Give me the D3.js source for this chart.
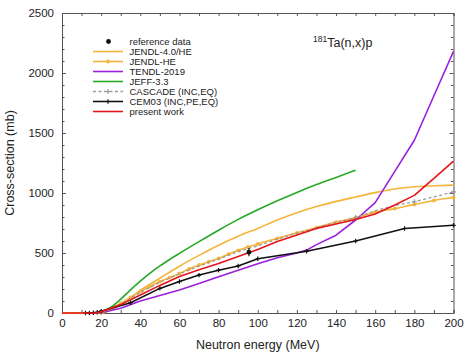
<!DOCTYPE html>
<html><head><meta charset="utf-8">
<script src="https://cdn.jsdelivr.net/npm/d3@7"></script>
<style>
body{margin:0;background:#fff;}
svg{display:block;font-family:"Liberation Sans",Arial,sans-serif;}
</style></head>
<body><svg id="chart" width="474" height="355"></svg>
<script>
// ---- data ----
const xTicks = [0,20,40,60,80,100,120,140,160,180,200];
const yTicks = [0,500,1000,1500,2000,2500];

const jendl40HE = [[0,0],[10,0],[20,0],[25,25],[30,70],[35,128],[40,188],[50,290],[60,390],[70,480],[80,565],[90,640],[100,705],[110,775],[120,835],[130,887],[140,930],[150,967],[160,1003],[170,1034],[180,1052],[190,1060],[200,1066]];
const jendlHE = [[0,0],[10,0],[20,0],[25,35],[30,80],[35,130],[40,180],[45,222],[50,262],[55,295],[60,330],[65,368],[70,400],[75,427],[80,455],[85,490],[90,522],[95,550],[100,575],[110,622],[120,668],[130,712],[140,758],[150,795],[160,840],[170,870],[180,905],[190,938],[200,962]];
const jendlHEMarkers = [20,25,30,35,40,45,50,55,60,65,70,75,80,85,90,95,100,110,120,130,140,150,160,170,180,190,200];
const tendl2019 = [[18,0],[20,2],[30,40],[40,100],[50,145],[60,191],[70,245],[80,302],[90,357],[100,410],[110,460],[120,500],[125,524],[130,570],[140,648],[150,775],[160,920],[170,1180],[180,1440],[190,1810],[200,2180]];
const jeff33 = [[18,0],[20,10],[25,48],[30,115],[35,192],[40,265],[45,332],[50,392],[55,446],[60,497],[70,595],[80,690],[90,780],[100,860],[110,935],[120,1005],[130,1070],[140,1130],[150,1190]];
const cascade = [[18,0],[20,5],[30,75],[40,170],[50,255],[60,325],[70,390],[80,450],[90,510],[100,560],[110,615],[120,665],[130,710],[140,755],[150,795],[160,852],[170,895],[180,928],[190,968],[200,1010]];
const cascadeMarkers = [150,180,200];
const cem03 = [[12,0],[14,0],[16,2],[18,6],[20,15],[35,86],[50,205],[60,262],[70,316],[80,357],[90,392],[100,452],[125,515],[150,600],[175,704],[200,731]];
const presentWork = [[0,0],[10,0],[17,0],[20,10],[30,70],[40,150],[50,230],[60,305],[70,360],[80,413],[90,470],[100,530],[110,595],[120,650],[130,705],[140,742],[150,780],[160,825],[170,900],[180,980],[190,1122],[200,1265]];
const referenceData = [[95.5,507,35]];

const legendLabels = ["reference data","JENDL-4.0/HE","JENDL-HE","TENDL-2019","JEFF-3.3","CASCADE (INC,EQ)","CEM03 (INC,PE,EQ)","present work"];

// ---- layout ----
const svg = d3.select("#chart");
const L = 62, R = 453.5, T = 13, B = 313;
const x = d3.scaleLinear().domain([0,200]).range([L,R]);
const y = d3.scaleLinear().domain([0,2500]).range([B,T]);
const frameColor = "#555";

const orange = "#f4b43a", purple = "#9b1fdc", green = "#27a927", grey = "#9a9a9a", red = "#e4141b";

// axes (ticks inside)
const fmt = d3.format("d");
svg.append("g").attr("transform",`translate(0,${B})`)
  .call(d3.axisBottom(x).tickValues(d3.range(0,201,10)).tickSize(-3).tickPadding(6).tickFormat(d=>d%20===0?fmt(d):""))
  .call(g=>{g.select(".domain").attr("stroke",frameColor);g.selectAll("line").attr("stroke",frameColor);
    g.selectAll("text").attr("font-size","11.5px").attr("fill","#222");});
svg.append("g").attr("transform",`translate(0,${T})`)
  .call(d3.axisTop(x).tickValues(d3.range(0,201,10)).tickSize(-3).tickFormat(""))
  .call(g=>{g.select(".domain").attr("stroke",frameColor);g.selectAll("line").attr("stroke",frameColor);});
svg.append("g").attr("transform",`translate(${L},0)`)
  .call(d3.axisLeft(y).tickValues(d3.range(0,2501,100)).tickSize(-2.5).tickPadding(8).tickFormat(d=>d%500===0?fmt(d):""))
  .call(g=>{g.select(".domain").attr("stroke",frameColor);
    g.selectAll(".tick line").attr("stroke",frameColor).attr("x2",d=>d%500===0?4:2.5);
    g.selectAll("text").attr("font-size","11.5px").attr("fill","#222");});
svg.append("g").attr("transform",`translate(${R},0)`)
  .call(d3.axisRight(y).tickValues(d3.range(0,2501,100)).tickSize(-2.5).tickFormat(""))
  .call(g=>{g.select(".domain").attr("stroke",frameColor);
    g.selectAll(".tick line").attr("stroke",frameColor).attr("x2",d=>d%500===0?-4:-2.5);});

// axis titles
svg.append("text").attr("x",(L+R)/2).attr("y",349).attr("text-anchor","middle")
  .attr("font-size","12.5px").attr("fill","#222").text("Neutron energy (MeV)");
svg.append("text").attr("transform",`translate(14,${(T+B)/2}) rotate(-90)`).attr("text-anchor","middle")
  .attr("font-size","12.5px").attr("fill","#222").text("Cross-section (mb)");

// annotation
const ann = svg.append("text").attr("x",313).attr("y",47).attr("fill","#222");
ann.append("tspan").attr("font-size","8.5px").attr("dy","-5").text("181");
ann.append("tspan").attr("font-size","12.5px").attr("dy","5").text("Ta(n,x)p");

// curves
const line = d3.line().x(d=>x(d[0])).y(d=>y(d[1]));
const smooth = d3.line().x(d=>x(d[0])).y(d=>y(d[1])).curve(d3.curveMonotoneX);
const plot = svg.append("g");
function drawLine(data,color,w,dash,gen){
  plot.append("path").datum(data).attr("d",gen||line).attr("fill","none")
    .attr("stroke",color).attr("stroke-width",w).attr("stroke-linejoin","round")
    .attr("stroke-dasharray",dash||null);
}
function plus(g,cx,cy,s,color,w){
  g.append("path").attr("d",`M${cx-s},${cy}H${cx+s}M${cx},${cy-s}V${cy+s}`)
    .attr("stroke",color).attr("stroke-width",w).attr("fill","none");
}
function interp(data,e){
  for(let i=1;i<data.length;i++){ if(e<=data[i][0]){const a=data[i-1],b=data[i];return a[1]+(b[1]-a[1])*(e-a[0])/(b[0]-a[0]);} }
  return data[data.length-1][1];
}

drawLine(jendl40HE,orange,1.6,null,smooth);
drawLine(jendlHE,orange,1.6,null,smooth);
jendlHEMarkers.forEach(e=>plot.append("circle").attr("cx",x(e)).attr("cy",y(interp(jendlHE,e))).attr("r",1.9).attr("fill",orange));
drawLine(tendl2019,purple,1.6);
drawLine(jeff33,green,1.6,null,smooth);
drawLine(cascade,grey,1.3,"3,2.5",smooth);
cascadeMarkers.forEach(e=>plus(plot,x(e),y(interp(cascade,e)),2.5,grey,1.2));
drawLine(cem03,"#111",1.6);
cem03.forEach(d=>plus(plot,x(d[0]),y(d[1]),2.2,"#111",1.2));
drawLine(presentWork,red,1.6);
referenceData.forEach(d=>{
  plot.append("line").attr("x1",x(d[0])).attr("x2",x(d[0])).attr("y1",y(d[1]-d[2])).attr("y2",y(d[1]+d[2])).attr("stroke","#111").attr("stroke-width",1.2);
  plot.append("circle").attr("cx",x(d[0])).attr("cy",y(d[1])).attr("r",2.4).attr("fill","#111");
});

// legend
const lg = svg.append("g");
const lx1 = 93, lx2 = 123, tx = 129.5, ly0 = 41.5, ldy = 10;
legendLabels.forEach((lab,i)=>{
  const yy = ly0 + i*ldy, mx = (lx1+lx2)/2;
  if(i===0){ lg.append("circle").attr("cx",108.5).attr("cy",yy).attr("r",2.4).attr("fill","#111"); }
  else {
    const cols=[null,orange,orange,purple,green,grey,"#111",red];
    lg.append("line").attr("x1",lx1).attr("x2",lx2).attr("y1",yy).attr("y2",yy)
      .attr("stroke",cols[i]).attr("stroke-width",i===5?1.3:1.6).attr("stroke-dasharray",i===5?"3,2.5":null);
    if(i===2) lg.append("circle").attr("cx",mx).attr("cy",yy).attr("r",1.9).attr("fill",orange);
    if(i===5) plus(lg,mx,yy,2.5,grey,1.2);
    if(i===6) plus(lg,mx,yy,2.2,"#111",1.2);
  }
  lg.append("text").attr("x",tx).attr("y",yy).attr("dy","0.35em").attr("font-size","9.5px").attr("fill","#222").text(lab);
});
</script></body></html>
